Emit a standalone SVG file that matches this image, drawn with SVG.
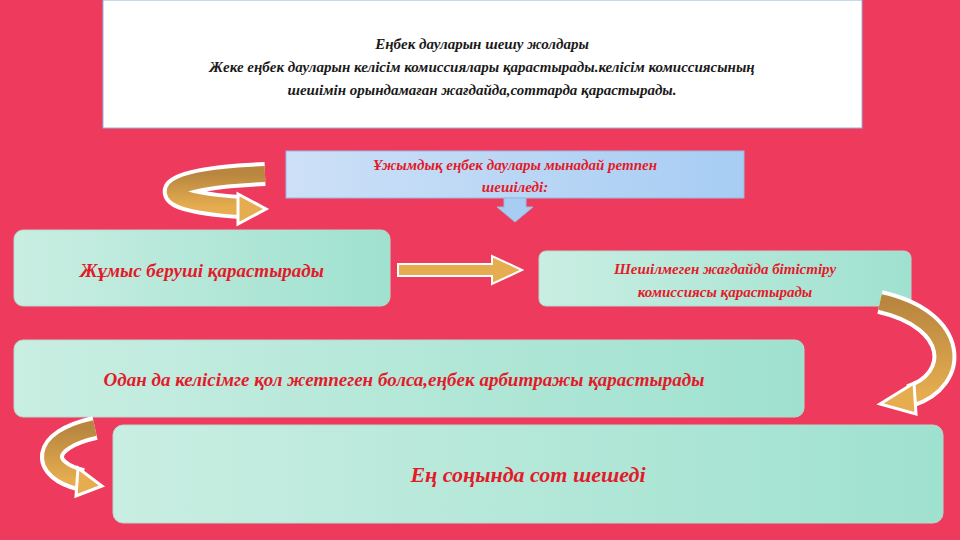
<svg xmlns="http://www.w3.org/2000/svg" width="960" height="540" viewBox="0 0 960 540">
<defs>
<linearGradient id="teal" x1="0" y1="0" x2="1" y2="0"><stop offset="0" stop-color="#c9eee2"/><stop offset="1" stop-color="#9fe1cf"/></linearGradient>
<linearGradient id="blue" x1="0" y1="0" x2="1" y2="0"><stop offset="0" stop-color="#cde0f7"/><stop offset="1" stop-color="#a7cdf3"/></linearGradient>
<linearGradient id="gold" x1="0" y1="0" x2="0" y2="1"><stop offset="0" stop-color="#b8863f"/><stop offset="1" stop-color="#e6ad50"/></linearGradient>
<style>
.box{fill:url(#teal);stroke:#b7d9cf;stroke-width:1}
.t{font-family:"Liberation Serif",serif;font-style:italic;font-weight:bold;text-anchor:middle}
.red{fill:#e21b2b}
.dark{fill:#1a1a1a}
.out{fill:none;stroke:#fff;stroke-width:24;stroke-linecap:butt}
.arc{fill:none;stroke:url(#gold);stroke-width:16;stroke-linecap:butt}
</style>
</defs>
<rect width="960" height="540" fill="#ee3a5d"/>
<g id="top"><rect x="103" y="0" width="759" height="128" fill="#fff" stroke="#8fb3d9"/>
<text class="t dark" font-size="15"><tspan x="482" y="49">Еңбек дауларын шешу жолдары</tspan><tspan x="482" y="72">Жеке еңбек дауларын келісім комиссиялары қарастырады.келісім комиссиясының</tspan><tspan x="482" y="95">шешімін орындамаған жағдайда,соттарда қарастырады.</tspan></text></g>
<g id="head"><rect x="286" y="151" width="458" height="47" fill="url(#blue)" stroke="#9bb8e0"/>
<text class="t red" font-size="15"><tspan x="515" y="170">Ұжымдық еңбек даулары мынадай ретпен</tspan><tspan x="515" y="192">шешіледі:</tspan></text></g>
<g id="n1"><rect class="box" x="14" y="230" width="376" height="76" rx="9"/><text class="t red" x="202" y="277" font-size="19">Жұмыс беруші қарастырады</text></g>
<g id="n2"><rect class="box" x="539" y="251" width="372" height="55" rx="7"/><text class="t red" font-size="15"><tspan x="725" y="274">Шешілмеген жағдайда бітістіру</tspan><tspan x="725" y="297">комиссиясы қарастырады</tspan></text></g>
<g id="n3"><rect class="box" x="14" y="340" width="790" height="77" rx="9"/><text class="t red" x="404" y="386" font-size="19">Одан да келісімге қол жетпеген болса,еңбек арбитражы қарастырады</text></g>
<g id="n4"><rect class="box" x="113" y="425" width="830" height="98" rx="10"/><text class="t red" x="528" y="482" font-size="22">Ең соңында сот шешеді</text></g>
<g id="connectors">
<polygon points="504,198 526,198 526,207 533,207 515,222 497,207 504,207" fill="#a7cdf3" stroke="#9bb8e0"/>
<polygon points="398,264 492,264 492,256 522,270 492,284 492,276 398,276" fill="#e6ad50" stroke="#fff" stroke-width="2"/>
<path class="out" d="M265,174 C160,178 140,200 240,207"/>
<path class="arc" d="M265,174 C160,178 140,200 240,207"/>
<polygon points="238,194 266,209 238,224" fill="#e6ad50" stroke="#fff" stroke-width="3"/>
<path class="out" d="M880,302 C960,320 960,380 910,396"/>
<path class="arc" d="M880,302 C960,320 960,380 910,396"/>
<polygon points="914,383 880,404 916,414" fill="#e6ad50" stroke="#fff" stroke-width="3"/>
<path class="out" d="M95,428 C40,440 40,470 82,480"/>
<path class="arc" d="M95,428 C40,440 40,470 82,480"/>
<polygon points="78,468 102,486 76,496" fill="#e6ad50" stroke="#fff" stroke-width="3"/>
</g>
</svg>
